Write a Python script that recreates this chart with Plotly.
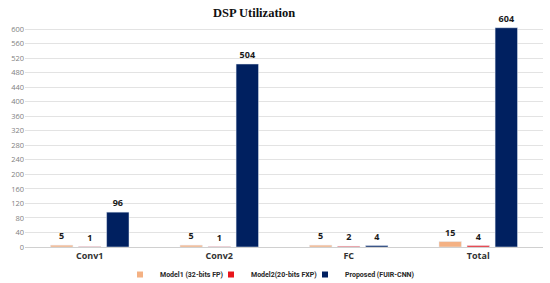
import plotly.graph_objects as go

categories = ["Conv1", "Conv2", "FC", "Total"]
model1 = [5, 5, 5, 15]
model2 = [1, 1, 2, 4]
proposed = [96, 504, 4, 604]
series_names = ["Model1 (32-bits FP)", "Model2(20-bits FXP)", "Proposed (FUIR-CNN)"]
colors = ["#F4B183", "#E8151B", "#002060"]
y_ticks = list(range(0, 601, 40))

fig = go.Figure()
for name, vals, col in zip(series_names, [model1, model2, proposed], colors):
    fig.add_trace(go.Bar(
        x=categories, y=vals, name=name, marker_color=col, showlegend=False,
        text=[str(v) for v in vals], textposition="outside",
        textfont=dict(family="Open Sans", size=9, color="#1a1a1a", weight="bold"),
        cliponaxis=False,
    ))
# legend entries with small square swatches, one legend each for exact placement
legend_ids = ["legend", "legend2", "legend3"]
for name, col, lid in zip(series_names, colors, legend_ids):
    fig.add_trace(go.Scatter(
        x=[None], y=[None], mode="markers", name=name, legend=lid,
        marker=dict(symbol="square", size=6, color=col), showlegend=True,
    ))

legend_font = dict(family="Roboto", size=7, color="#262626", weight="bold")
legend_left_px = [120, 211, 305]
leg_common = dict(orientation="h", xref="container", xanchor="left", yref="container",
                  y=0.03, yanchor="middle", font=legend_font, itemwidth=30,
                  bgcolor="rgba(0,0,0,0)")

fig.update_layout(
    width=550, height=283,
    margin=dict(l=25, r=7, t=27, b=36, autoexpand=False),
    paper_bgcolor="white", plot_bgcolor="white",
    barmode="group", bargap=0.35, bargroupgap=0.2,
    title=dict(text="<b>DSP Utilization</b>", x=0.462, xanchor="center", y=0.955, yanchor="middle",
               font=dict(family="Liberation Serif", size=12.5, color="#111")),
    showlegend=True,
    legend=dict(x=legend_left_px[0] / 550, **leg_common),
    legend2=dict(x=legend_left_px[1] / 550, **leg_common),
    legend3=dict(x=legend_left_px[2] / 550, **leg_common),
)
fig.update_xaxes(showline=True, linecolor="#D0D0D0", linewidth=1, ticks="", automargin=False,
                 tickfont=dict(family="Open Sans", size=9, color="#333", weight="bold"))
fig.update_yaxes(range=[0, 606], tickvals=y_ticks, showgrid=True, gridcolor="#E3E3E3",
                 zeroline=False, showline=False, ticks="", automargin=False,
                 tickfont=dict(family="Open Sans", size=7.5, color="#7f7f7f"))
fig.write_html("out.html", config={"displayModeBar": False},
               post_script="document.body.style.margin='0';")
